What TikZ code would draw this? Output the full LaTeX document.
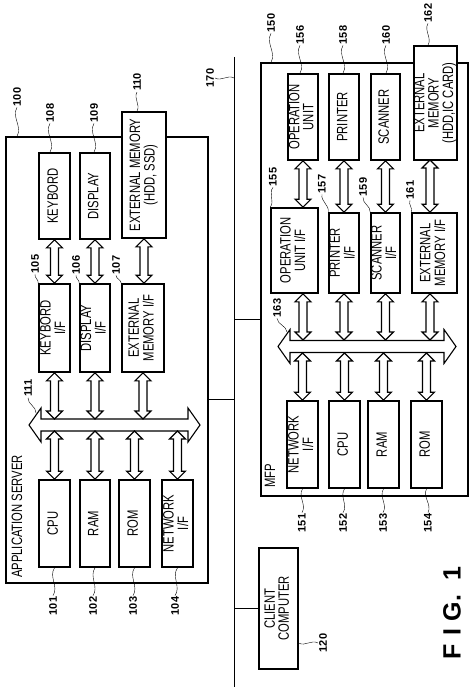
\documentclass[tikz,border=0pt]{standalone}
\usepackage{fontspec}
\setmainfont{Liberation Sans}
\newfontfamily\condfont{Liberation Sans}[FakeStretch=0.75]
\usetikzlibrary{calc}

\newcommand{\boxfont}{\condfont\fontsize{15}{12.5}\selectfont}
\newcommand{\vtext}[1]{\rotatebox{90}{\begin{tabular}{@{}c@{}}#1\end{tabular}}}

\tikzset{
  outbox/.style 2 args={draw, line width=1.3pt, minimum width=#1, minimum height=#2, inner sep=0pt},
  blk/.style 2 args={draw, fill=white, line width=1.6pt, minimum width=#1, minimum height=#2, inner sep=0pt, font=\boxfont},
  num/.style={rotate=90, inner sep=1pt, font=\bfseries\fontsize{11}{13}\selectfont},
  lead/.style={out=30, in=-150, relative, line width=0.7pt},
  fat/.style n args={3}{to path={
    -- ($(\tikztostart)!#3!(\tikztotarget)!#2!90:(\tikztotarget)$)
    -- ($(\tikztostart)!#3!(\tikztotarget)!#1!90:(\tikztotarget)$)
    -- ($(\tikztotarget)!#3!(\tikztostart)!#1!-90:(\tikztostart)$)
    -- ($(\tikztotarget)!#3!(\tikztostart)!#2!-90:(\tikztostart)$)
    -- (\tikztotarget)
    -- ($(\tikztotarget)!#3!(\tikztostart)!#2!90:(\tikztostart)$)
    -- ($(\tikztotarget)!#3!(\tikztostart)!#1!90:(\tikztostart)$)
    -- ($(\tikztostart)!#3!(\tikztotarget)!#1!-90:(\tikztotarget)$)
    -- ($(\tikztostart)!#3!(\tikztotarget)!#2!-90:(\tikztotarget)$)
    -- cycle}},
  fatsm/.style={fat={4pt}{8pt}{8pt}, draw, fill=white, line width=1.1pt},
  fatbus/.style={fat={6pt}{17pt}{12pt}, draw, fill=white, line width=1.1pt},
}

\begin{document}
\begin{tikzpicture}[x=1pt,y=1pt,yscale=-1,xscale=1]
\useasboundingbox (0,0) rectangle (474,693);

%Network line 170
\coordinate (netT) at (234,57);
\coordinate (netB) at (234,687);
\draw [line width=0.9pt] (netT) -- (netB);
\coordinate (j1) at (234,399);
\coordinate (j2) at (234,319);
\coordinate (j3) at (234,608);

%Application server 100
\node [outbox={202}{446}] (app) at (107,360) {};
\draw [line width=0.9pt] (j1) -- (j1 -| app.east);
\node [rotate=90, anchor=west, inner sep=0pt, font=\boxfont] (appt) at (17,578) {APPLICATION SERVER};

\node [blk={31}{86}] (kbd) at (54.5,196) {\vtext{KEYBORD}};
\node [blk={30}{86}] (disp) at (95,196) {\vtext{DISPLAY}};
\node [blk={44}{126}] (ext) at (144,175) {\vtext{EXTERNAL MEMORY\\(HDD, SSD)}};
\node [blk={31}{88}] (kbdif) at (54.5,328) {\vtext{KEYBORD\\I/F}};
\node [blk={30}{88}] (dispif) at (95,328) {\vtext{DISPLAY\\I/F}};
\node [blk={42}{88}] (extif) at (143,328) {\vtext{EXTERNAL\\MEMORY I/F}};
\node [blk={31}{87}] (cpu) at (54.5,523.5) {\vtext{CPU}};
\node [blk={30}{87}] (ram) at (95,523.5) {\vtext{RAM}};
\node [blk={31}{87}] (rom) at (134.5,523.5) {\vtext{ROM}};
\node [blk={31}{87}] (net) at (177.5,523.5) {\vtext{NETWORK\\I/F}};

%Bus 111
\coordinate (busL) at (29,425);
\coordinate (busR) at (200,425);
\coordinate (busT) at (29,419);
\coordinate (busB) at (29,431);
\coordinate (bus111) at (36,413);
\draw [fatbus] (busL) to (busR);

\draw [fatsm] (kbd.south) to (kbdif.north);
\draw [fatsm] (disp.south) to (dispif.north);
\draw [fatsm] (ext.south |- extif.north) to (ext.south);
\draw [fatsm] (kbdif.south) to (kbdif.south |- busT);
\draw [fatsm] (dispif.south) to (dispif.south |- busT);
\draw [fatsm] (extif.south) to (extif.south |- busT);
\draw [fatsm] (busB -| cpu.north) to (cpu.north);
\draw [fatsm] (busB -| ram.north) to (ram.north);
\draw [fatsm] (busB -| rom.north) to (rom.north);
\draw [fatsm] (busB -| net.north) to (net.north);

%MFP 150
\node [outbox={207}{433}] (mfp) at (364.5,279.5) {};
\draw [line width=0.9pt] (j2) -- (j2 -| mfp.west);
\node [rotate=90, anchor=west, inner sep=0pt, font=\boxfont] (mfpt) at (270,488) {MFP};

\node [blk={30}{86}] (opu) at (303,117) {\vtext{OPERATION\\UNIT}};
\node [blk={30}{86}] (prn) at (344,117) {\vtext{PRINTER}};
\node [blk={29}{86}] (scn) at (385.5,117) {\vtext{SCANNER}};
\node [blk={43}{114}] (emem) at (435.5,103) {\vtext{EXTERNAL\\MEMORY\\(HDD,IC CARD)}};
\node [blk={47}{85}] (opuif) at (294.5,250.5) {\vtext{OPERATION\\UNIT I/F}};
\node [blk={30}{80}] (prnif) at (344,253) {\vtext{PRINTER\\I/F}};
\node [blk={29}{80}] (scnif) at (385.5,253) {\vtext{SCANNER\\I/F}};
\node [blk={45}{80}] (ememif) at (434.5,253) {\vtext{EXTERNAL\\MEMORY I/F}};
\node [blk={31}{87}] (netif) at (302.5,444.5) {\vtext{NETWORK\\I/F}};
\node [blk={31}{87}] (mcpu) at (344.5,444.5) {\vtext{CPU}};
\node [blk={31}{87}] (mram) at (383.5,444.5) {\vtext{RAM}};
\node [blk={31}{87}] (mrom) at (426.5,444.5) {\vtext{ROM}};

%Bus 163
\coordinate (bus2L) at (278,346.5);
\coordinate (bus2R) at (456,346.5);
\coordinate (bus2T) at (278,340);
\coordinate (bus2B) at (278,353);
\coordinate (bus163) at (287,332);
\draw [fatbus] (bus2L) to (bus2R);

\coordinate (e1) at (430,160);
\draw [fatsm] (opu.south) to (opu.south |- opuif.north);
\draw [fatsm] (prn.south) to (prnif.north);
\draw [fatsm] (scn.south) to (scnif.north);
\draw [fatsm] (e1) to (e1 |- ememif.north);
\draw [fatsm] (opu.south |- opuif.south) to (opu.south |- bus2T);
\draw [fatsm] (prnif.south) to (prnif.south |- bus2T);
\draw [fatsm] (scnif.south) to (scnif.south |- bus2T);
\draw [fatsm] (e1 |- ememif.south) to (e1 |- bus2T);
\draw [fatsm] (bus2B -| netif.north) to (netif.north);
\draw [fatsm] (bus2B -| mcpu.north) to (mcpu.north);
\draw [fatsm] (bus2B -| mram.north) to (mram.north);
\draw [fatsm] (bus2B -| mrom.north) to (mrom.north);

%Client computer 120
\node [blk={39}{121}, line width=1.3pt] (cc) at (278.5,608.5) {\vtext{CLIENT\\COMPUTER}};
\draw [line width=0.9pt] (j3) -- (j3 -| cc.west);

% Text Node
\node [num] (l100) at (17,97) {100};
\node [num] (l108) at (50,113) {108};
\node [num] (l109) at (94,113) {109};
\node [num] (l110) at (137,82) {110};
\node [num] (l105) at (35,264) {105};
\node [num] (l106) at (76,265) {106};
\node [num] (l107) at (116,265) {107};
\node [num] (l111) at (28,388) {111};
\node [num] (l101) at (53,606) {101};
\node [num] (l102) at (93,606) {102};
\node [num] (l103) at (133,606) {103};
\node [num] (l104) at (175,606) {104};
\node [num] (l170) at (210,78) {170};
\node [num] (l150) at (271,23) {150};
\node [num] (l156) at (300,35) {156};
\node [num] (l158) at (343,35) {158};
\node [num] (l160) at (386,35) {160};
\node [num] (l162) at (428,13) {162};
\node [num] (l155) at (273,177) {155};
\node [num] (l157) at (322,184) {157};
\node [num] (l159) at (363,187) {159};
\node [num] (l161) at (410,190) {161};
\node [num] (l163) at (277,308) {163};
\node [num] (l151) at (302,523) {151};
\node [num] (l152) at (343,523) {152};
\node [num] (l153) at (383,523) {153};
\node [num] (l154) at (428,523) {154};
\node [num] (l120) at (323,643) {120};

%Leaders
\draw (l100.west) to[lead] (l100 |- app.north);
\draw (l108.west) to[lead] (l108 |- kbd.north);
\draw (l109.west) to[lead] (l109 |- disp.north);
\draw (l110.west) to[lead] (l110 |- ext.north);
\draw (l105.west) to[lead] (kbdif.north west);
\draw (l106.west) to[lead] (dispif.north west);
\draw (l107.west) to[lead] (extif.north west);
\draw (l111.west) to[lead] (bus111);
\draw (cpu.south) to[lead] (l101.east);
\draw (ram.south) to[lead] (l102.east);
\draw (rom.south) to[lead] (l103.east);
\draw (net.south) to[lead] (l104.east);
\draw (l170.south) to[lead] (l170.south -| netT);
\draw (l150.west) to[lead] (l150 |- mfp.north);
\draw (l156.west) to[lead] (l156 |- opu.north);
\draw (l158.west) to[lead] (l158 |- prn.north);
\draw (l160.west) to[lead] (l160 |- scn.north);
\draw (l162.west) to[lead] (l162 |- emem.north);
\draw (l155.west) to[lead] (opuif.north west);
\draw (l157.west) to[lead] (prnif.north west);
\draw (l159.west) to[lead] (scnif.north west);
\draw (l161.west) to[lead] (ememif.north west);
\draw (l163.west) to[lead] (bus163);
\draw (netif.south) to[lead] (l151.east);
\draw (mcpu.south) to[lead] (l152.east);
\draw (mram.south) to[lead] (l153.east);
\draw (mrom.south) to[lead] (l154.east);
\draw (cc.east |- l120) to[lead] (l120.north);

\node [rotate=90, font=\bfseries\fontsize{25}{25}\selectfont] (fig) at (452,613) {F\hspace{8pt}I\hspace{8pt}G.\hspace{14pt}1};

\end{tikzpicture}
\end{document}
